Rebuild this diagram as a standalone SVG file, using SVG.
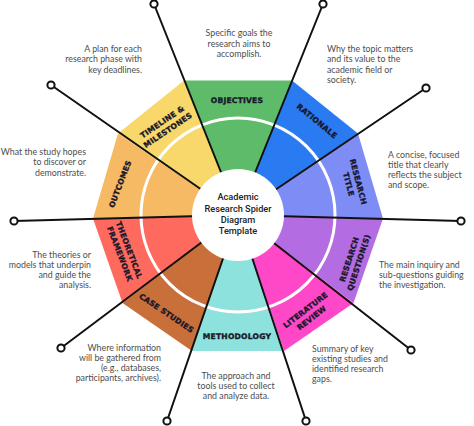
<svg xmlns="http://www.w3.org/2000/svg" width="474" height="426" viewBox="0 0 474 426">
<style>
.seg{stroke:none}
.spoke{stroke:#111;stroke-width:2;fill:none;stroke-linecap:round}
.end{fill:#fff;stroke:#111;stroke-width:2}
.lab{font-family:"DejaVu Sans",sans-serif;font-weight:bold;font-size:7.6px;fill:#17172a;stroke:#17172a;stroke-width:0.35px;text-anchor:middle;letter-spacing:0.2px}
.desc{font-family:Lato,"Open Sans",sans-serif;font-size:8.8px;fill:#4d4d4d}
.r{text-anchor:end}.m{text-anchor:middle}
.ctr{font-family:Roboto,"Liberation Sans",sans-serif;font-weight:500;font-size:9.2px;fill:#222;text-anchor:middle}
</style>
<rect width="474" height="426" fill="#fff"/>
<g id="segments">
<polygon id="seg-objectives" class="seg" fill="#5DBB6A" points="238,215 184,80.5 292,80.5"/>
<polygon id="seg-rationale" class="seg" fill="#2A7BF2" points="238,215 292,80.5 358,133.5"/>
<polygon id="seg-title" class="seg" fill="#7E8CF6" points="238,215 358,133.5 383,218.5"/>
<polygon id="seg-questions" class="seg" fill="#B46CE2" points="238,215 383,218.5 353.5,303"/>
<polygon id="seg-literature" class="seg" fill="#FF48C8" points="238,215 353.5,303 284,351"/>
<polygon id="seg-methodology" class="seg" fill="#8EE2DD" points="238,215 284,351 192,351"/>
<polygon id="seg-case" class="seg" fill="#C96F3A" points="238,215 192,351 122.5,303"/>
<polygon id="seg-theory" class="seg" fill="#FF6A5E" points="238,215 122.5,303 93,218.5"/>
<polygon id="seg-outcomes" class="seg" fill="#F6B964" points="238,215 93,218.5 118,133.5"/>
<polygon id="seg-timeline" class="seg" fill="#F8D86B" points="238,215 118,133.5 184,80.5"/>
</g>
<circle id="ring" cx="238" cy="215" r="97" fill="none" stroke="#fff" stroke-width="3"/>
<g id="connectors">
<line class="spoke" x1="238" y1="215" x2="154" y2="4"/>
<line class="spoke" x1="238" y1="215" x2="323" y2="4"/>
<line class="spoke" x1="238" y1="215" x2="426" y2="88"/>
<line class="spoke" x1="238" y1="215" x2="461" y2="221"/>
<line class="spoke" x1="238" y1="215" x2="411" y2="350"/>
<line class="spoke" x1="238" y1="215" x2="306" y2="421"/>
<line class="spoke" x1="238" y1="215" x2="167" y2="421"/>
<line class="spoke" x1="238" y1="215" x2="61" y2="348"/>
<line class="spoke" x1="238" y1="215" x2="14" y2="221"/>
<line class="spoke" x1="238" y1="215" x2="51" y2="85"/>
<circle class="end" cx="154" cy="4" r="3.6"/>
<circle class="end" cx="323" cy="4" r="3.6"/>
<circle class="end" cx="426" cy="88" r="3.6"/>
<circle class="end" cx="461" cy="221" r="3.6"/>
<circle class="end" cx="411" cy="350" r="3.6"/>
<circle class="end" cx="306" cy="421" r="3.6"/>
<circle class="end" cx="167" cy="421" r="3.6"/>
<circle class="end" cx="61" cy="348" r="3.6"/>
<circle class="end" cx="14" cy="221" r="3.6"/>
<circle class="end" cx="51" cy="85" r="3.6"/>
</g>
<g id="center">
<circle cx="238" cy="215" r="46" fill="#fff"/>
<text class="ctr" x="238" y="200">Academic</text>
<text class="ctr" x="238" y="211.5">Research Spider</text>
<text class="ctr" x="238" y="222.5">Diagram</text>
<text class="ctr" x="238" y="233.5">Template</text>
</g>
<g id="objectives">
<text class="lab" x="237" y="102.7">OBJECTIVES</text>
<text class="desc m" x="239" y="36">Specific goals the</text>
<text class="desc m" x="239" y="46.5">research aims to</text>
<text class="desc m" x="239" y="57">accomplish.</text>
</g>
<g id="rationale">
<text class="lab" transform="translate(317,121) rotate(39.5)" y="2.7">RATIONALE</text>
<text class="desc" x="327" y="52">Why the topic matters</text>
<text class="desc" x="327" y="62.3">and its value to the</text>
<text class="desc" x="327" y="72.6">academic field or</text>
<text class="desc" x="327" y="82.9">society.</text>
</g>
<g id="research-title">
<text class="lab" transform="translate(353.5,183) rotate(75)"><tspan x="0" y="-2.3">RESEARCH</tspan><tspan x="0" y="7.7">TITLE</tspan></text>
<text class="desc" x="388" y="158">A concise, focused</text>
<text class="desc" x="388" y="168">title that clearly</text>
<text class="desc" x="388" y="178">reflects the subject</text>
<text class="desc" x="388" y="188">and scope.</text>
</g>
<g id="research-questions">
<text class="lab" transform="translate(354,261) rotate(-72)"><tspan x="0" y="-2.3">RESEARCH</tspan><tspan x="0" y="7.7">QUESTION(S)</tspan></text>
<text class="desc" x="379" y="268">The main inquiry and</text>
<text class="desc" x="379" y="278">sub-questions guiding</text>
<text class="desc" x="379" y="288">the investigation.</text>
</g>
<g id="literature-review">
<text class="lab" transform="translate(308.5,314) rotate(-37.5)"><tspan x="0" y="-2.3">LITERATURE</tspan><tspan x="0" y="7.7">REVIEW</tspan></text>
<text class="desc" x="312" y="352">Summary of key</text>
<text class="desc" x="312" y="362">existing studies and</text>
<text class="desc" x="312" y="372">identified research</text>
<text class="desc" x="312" y="382">gaps.</text>
</g>
<g id="methodology">
<text class="lab" x="237" y="338.7">METHODOLOGY</text>
<text class="desc m" x="236" y="379">The approach and</text>
<text class="desc m" x="236" y="389">tools used to collect</text>
<text class="desc m" x="236" y="399">and analyze data.</text>
</g>
<g id="case-studies">
<text class="lab" transform="translate(166.5,313) rotate(34)" y="2.7">CASE STUDIES</text>
<text class="desc r" x="161" y="351">Where information</text>
<text class="desc r" x="161" y="361">will be gathered from</text>
<text class="desc r" x="161" y="371">(e.g., databases,</text>
<text class="desc r" x="161" y="381">participants, archives).</text>
</g>
<g id="theoretical-framework">
<text class="lab" transform="translate(124.5,252) rotate(69)"><tspan x="0" y="-2.3">THEORETICAL</tspan><tspan x="0" y="7.7">FRAMEWORK</tspan></text>
<text class="desc r" x="91" y="258">The theories or</text>
<text class="desc r" x="91" y="268">models that underpin</text>
<text class="desc r" x="91" y="278">and guide the</text>
<text class="desc r" x="91" y="288">analysis.</text>
</g>
<g id="outcomes">
<text class="lab" transform="translate(120,184) rotate(-69)" y="2.7">OUTCOMES</text>
<text class="desc r" x="86" y="154.5">What the study hopes</text>
<text class="desc r" x="86" y="165">to discover or</text>
<text class="desc r" x="86" y="175.5">demonstrate.</text>
</g>
<g id="timeline">
<text class="lab" transform="translate(165,126) rotate(-34)"><tspan x="0" y="-2.3">TIMELINE &amp;</tspan><tspan x="0" y="7.7">MILESTONES</tspan></text>
<text class="desc r" x="142" y="51.5">A plan for each</text>
<text class="desc r" x="142" y="62">research phase with</text>
<text class="desc r" x="142" y="72.5">key deadlines.</text>
</g>
</svg>
